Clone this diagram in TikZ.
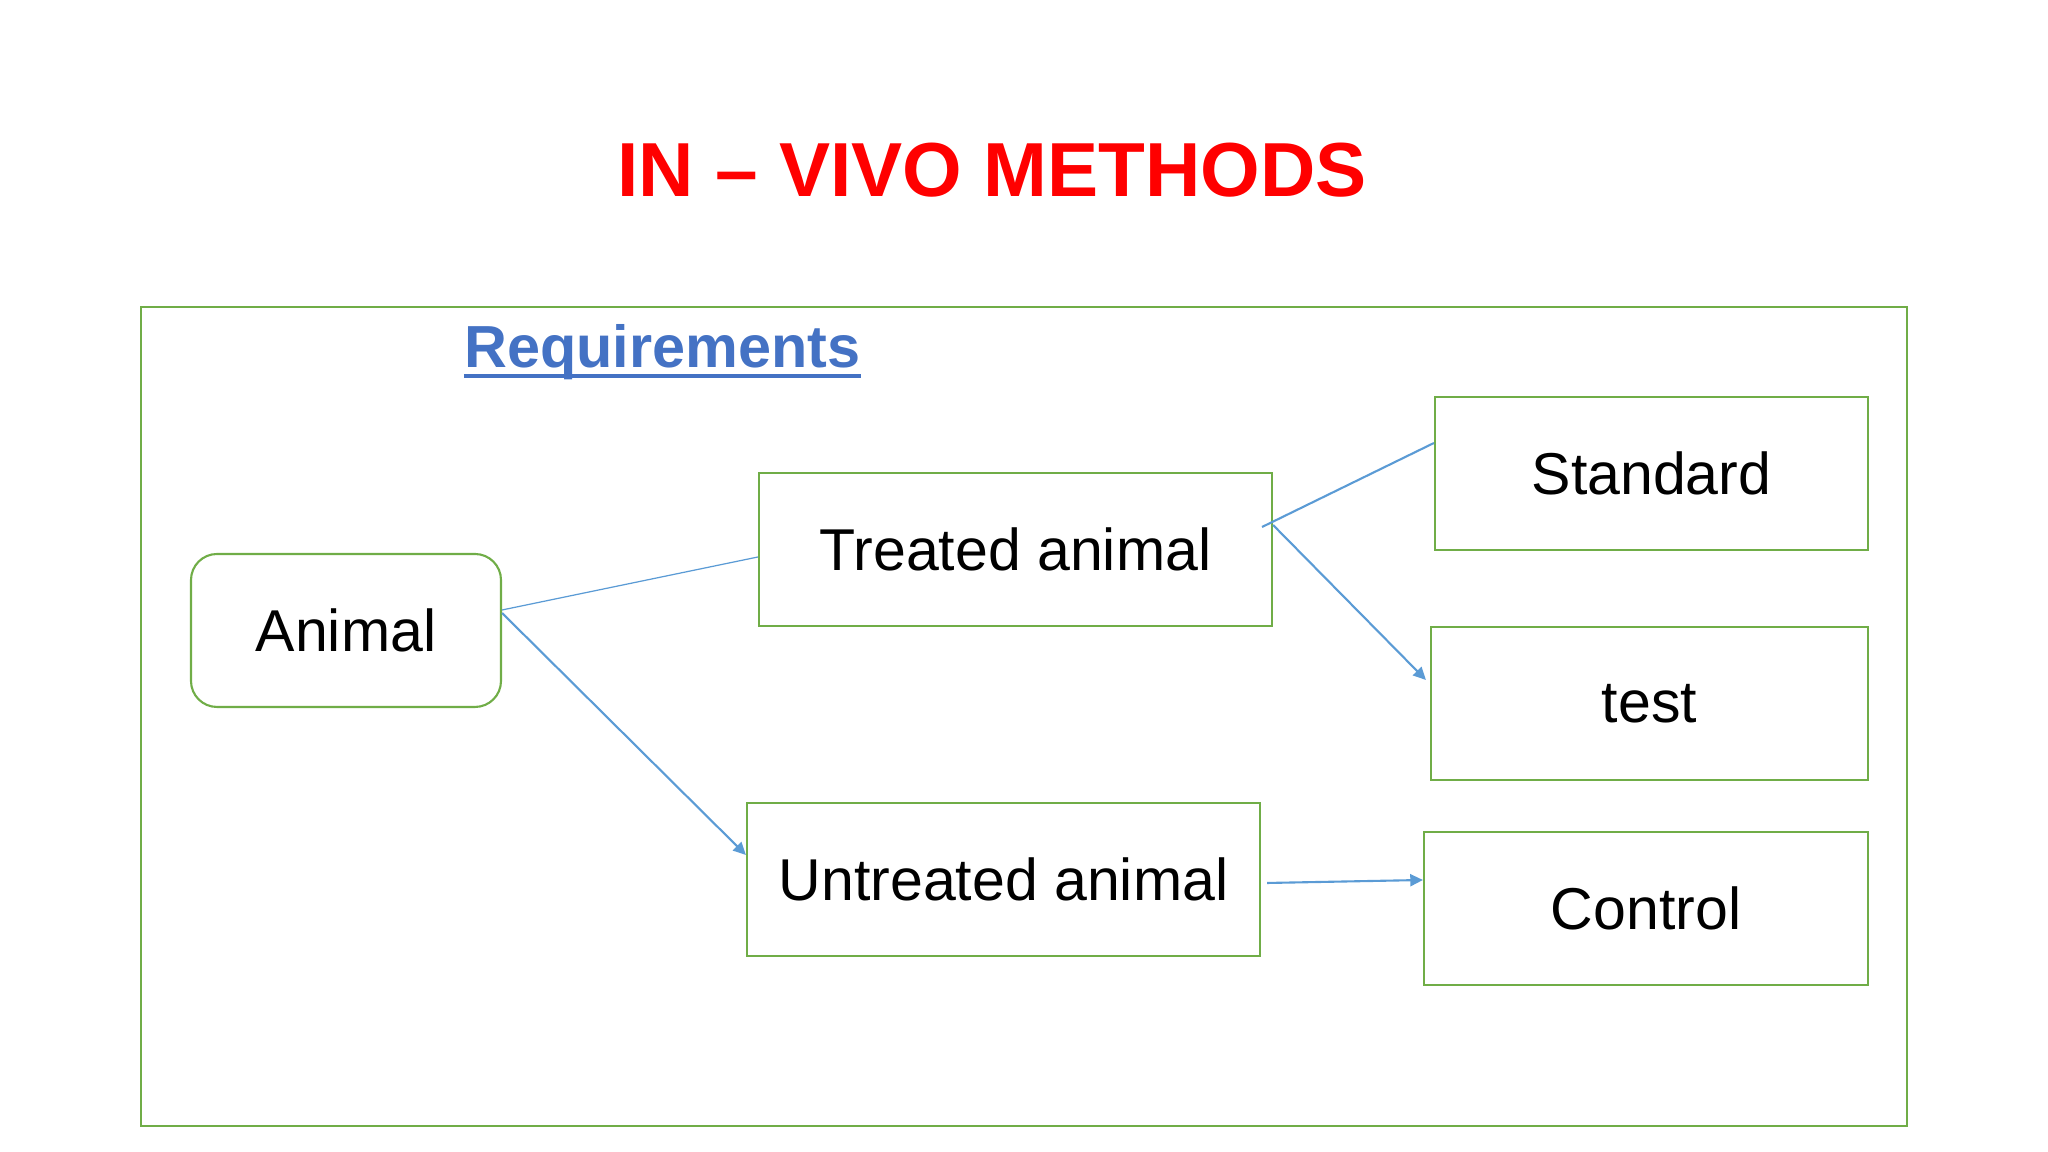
\documentclass[tikz,border=0pt]{standalone}
\usepackage{fontspec}
\setmainfont{Liberation Sans}
\usetikzlibrary{positioning,arrows.meta}
\definecolor{boxgreen}{RGB}{112,173,71}
\definecolor{linkblue}{RGB}{91,155,213}
\definecolor{reqblue}{RGB}{68,114,196}
\definecolor{titlered}{RGB}{255,0,0}

\begin{document}
\begin{tikzpicture}[
    font=\fontsize{16.8}{20}\selectfont,
    box/.style={
      draw=boxgreen, line width=0.6pt, fill=white,
      minimum height=1.53cm, inner sep=0pt
    },
    rbox/.style={box, rounded corners=0.26cm},
    link/.style={draw=linkblue, line width=0.6pt},
    arr/.style={link, -{Triangle[length=3.6pt, width=3.4pt]}},
  ]
    \useasboundingbox (0,0) rectangle (20.48,11.52);

    %── Title and frame ─────────────────────────────────────────────────
    \node[text=titlered, font=\fontsize{21.8}{26}\bfseries\selectfont] (title)
      at (9.92,9.82) {IN – VIVO METHODS};
    \draw[boxgreen, line width=0.6pt] (1.41,0.26) rectangle (19.07,8.45);

    \node[text=reqblue, font=\fontsize{16.9}{20}\bfseries\selectfont,
      inner sep=0pt, anchor=base] (req) at (6.625,7.84) {Requirements};
    \draw[reqblue, line width=1.1pt]
      ([yshift=-0.08cm]req.base west) -- ([yshift=-0.08cm]req.base east);

    %── Boxes ───────────────────────────────────────────────────────────
    \node[rbox, minimum width=3.10cm] (animal)    at (3.46,5.215)   {Animal};
    \node[box,  minimum width=5.13cm] (treated)   at (10.155,6.025) {Treated animal};
    \node[box,  minimum width=5.13cm] (untreated) at (10.035,2.725) {Untreated animal};
    \node[box,  minimum width=4.33cm] (standard)  at (16.515,6.785) {Standard};
    \node[box,  minimum width=4.37cm] (test)      at (16.495,4.485) {test};
    \node[box,  minimum width=4.44cm] (control)   at (16.46,2.435)  {Control};

    %── Connectors ──────────────────────────────────────────────────────
    \draw[link, line width=0.35pt]
      ([yshift=0.205cm]animal.east) -- ([yshift=-0.075cm]treated.west);
    \draw[arr]
      ([yshift=0.175cm]animal.east) -- ([yshift=0.245cm]untreated.west);
    \draw[link]
      ([xshift=-0.11cm,yshift=0.225cm]treated.east) -- ([yshift=0.305cm]standard.west);
    \draw[arr]
      ([yshift=0.245cm]treated.east) -- ([xshift=-0.04cm,yshift=0.235cm]test.west);
    \draw[arr]
      ([xshift=0.06cm,yshift=-0.035cm]untreated.east) -- ([yshift=0.285cm]control.west);

  \end{tikzpicture}
\end{document}
